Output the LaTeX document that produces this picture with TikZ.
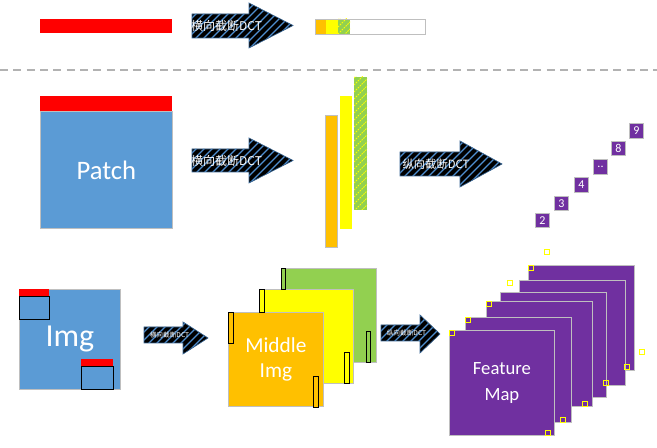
\documentclass[tikz,border=0pt]{standalone}
\usepackage{fontspec}
\setmainfont{Carlito}
\newfontfamily\cjk{Noto Sans CJK SC}
\definecolor{cblue}{HTML}{5B9BD5}
\definecolor{corange}{HTML}{FFC000}
\definecolor{cyellow}{HTML}{FFFF00}
\definecolor{cgreen}{HTML}{92D050}
\definecolor{cpurple}{HTML}{7030A0}
\definecolor{cred}{HTML}{FF0000}
\definecolor{cstripe}{HTML}{4F8FD0}
\tikzset{
  box/.style={draw=gray!50,line width=0.6pt},
  num/.style={fill=cpurple,draw=gray!50,line width=0.6pt,text=white,inner sep=0pt,minimum size=11pt,font=\fontsize{9}{9}\selectfont},
  ysq/.style={draw=cyellow,line width=0.7pt},
  bk/.style={draw=black,line width=0.7pt},
  lbl/.style={text=white,inner sep=0pt}
}
% x0 xh x1 ytop ybodytop ybodybot ybot text font
\newcommand\dctarrow[9]{%
  \begin{scope}
    \clip (#1,#5) -- (#2,#5) -- (#2,#4) -- (#3,{(#4+#7)/2}) -- (#2,#7) -- (#2,#6) -- (#1,#6) -- cycle;
    \fill[black] (#1,#4) rectangle (#3,#7);
    \foreach \i in {-70,-62,...,120} \draw[cstripe,line width=0.9pt] ({#1+\i},#7) -- ++(60,-60);
  \end{scope}
  \draw[cstripe!70!black,line width=0.5pt] (#1,#5) -- (#2,#5) -- (#2,#4) -- (#3,{(#4+#7)/2}) -- (#2,#7) -- (#2,#6) -- (#1,#6) -- cycle;
  \node[lbl,font=\cjk\fontsize{#9}{#9}\selectfont] at ({(#1+#2)/2+6},{(#5+#6)/2}) {#8};
}
\newcommand\hatchbar[4]{%
  \fill[cgreen] (#1,#2) rectangle (#3,#4);
  \begin{scope}
    \clip (#1,#2) rectangle (#3,#4);
    \foreach \i in {-20,-13,...,200} \draw[cyellow,line width=0.6pt,dash pattern=on 1.2pt off 0.8pt] (#1,{#2+\i}) -- ++(20,-20);
  \end{scope}
}
\begin{document}
\begin{tikzpicture}[x=0.75pt,y=-0.75pt]
\useasboundingbox (0,0) rectangle (657,448);
% top row
\fill[cred] (40,19) rectangle (172,33);
\dctarrow{192}{249}{293}{3}{14}{38}{48}{横向截断DCT}{9}
\draw[box,fill=white] (315,19) rectangle (425,34);
\fill[corange] (315,19) rectangle (326,34);
\fill[cyellow] (326,19) rectangle (338,34);
\hatchbar{338}{19}{350}{34}
\draw[box] (315,19) rectangle (425,34);
% dashed separator
\draw[gray!60,line width=1pt,dash pattern=on 6pt off 4pt] (0,70) -- (657,70);
% patch row
\fill[cred] (40,96) rectangle (172,111);
\node[box,fill=cblue,minimum width=99pt,minimum height=87.75pt,inner sep=0pt,anchor=north west,text=white,font=\fontsize{20}{20}\selectfont] (patch) at (40,111) {Patch};
\dctarrow{192}{249}{293}{138}{149}{172}{183}{横向截断DCT}{9}
\draw[box,fill=corange] (325,115) rectangle (337,247);
\fill[cyellow] (340,96) rectangle (352,229);
\hatchbar{354}{77}{367}{210}
\dctarrow{400}{460}{502}{141}{152}{176}{187}{纵向截断DCT}{8.5}
\node[num] (n2) at (542.5,220.5) {2};
\node[num] (n3) at (561.5,203.5) {3};
\node[num] (n4) at (581.5,185) {4};
\node[num] (nd) at (600.5,167) {..};
\node[num] (n8) at (618.5,148.5) {8};
\node[num] (n9) at (636.5,131) {9};
% bottom row: Img
\node[box,fill=cblue,minimum width=75.75pt,minimum height=75pt,inner sep=0pt,anchor=north west,text=white,font=\fontsize{24}{24}\selectfont] (img) at (19,289) {Img};
\fill[cred] (19,289) rectangle (49,296);
\draw[bk] (19,296) rectangle (49,319);
\fill[cred] (81,359) rectangle (113,366);
\draw[bk] (81,366) rectangle (113,389);
\dctarrow{144}{183}{208}{322}{327}{343}{354}{横向截断DCT}{5}
% middle img
\node[box,fill=cgreen,minimum width=69.75pt,minimum height=70.5pt,inner sep=0pt,anchor=north west] (mg) at (283,268) {};
\node[box,fill=cyellow,minimum width=70.5pt,minimum height=70.5pt,inner sep=0pt,anchor=north west] (my) at (259,289) {};
\node[box,fill=corange,minimum width=71.25pt,minimum height=70.5pt,inner sep=0pt,anchor=north west,text=white,align=center,font=\fontsize{16}{19}\selectfont] (mo) at (228,312) {Middle\\Img};
\draw[bk,fill=cgreen] (281,268) rectangle (285,289);
\draw[bk,fill=cgreen] (366,331) rectangle (370,362);
\draw[bk,fill=cyellow] (259,289) rectangle (264,312);
\draw[bk,fill=cyellow] (344,352) rectangle (349,383);
\draw[bk,fill=corange] (228,312) rectangle (233,343);
\draw[bk,fill=corange] (313,376) rectangle (318,407);
\dctarrow{381}{420}{440}{315}{325}{341}{353}{纵向截断DCT}{5}
% feature maps
\foreach \x/\y in {528/265,519/280,500/292,486/301,465/317}
  \draw[box,fill=cpurple] (\x,\y) rectangle ++(106,105);
\node[box,fill=cpurple,minimum width=78.75pt,minimum height=78.75pt,inner sep=0pt,anchor=north west,text=white,align=center,font=\fontsize{14}{19}\selectfont] (fm) at (449,330) {Feature\\Map};
\foreach \x/\y in {547/252,510/283,642/352,531/268,489/304,468/320,452/333,627/367,606/383,585/404,563/420,548/433}
  \draw[ysq] ({\x-2.5},{\y-2.5}) rectangle ++(5,5);
\end{tikzpicture}
\end{document}
